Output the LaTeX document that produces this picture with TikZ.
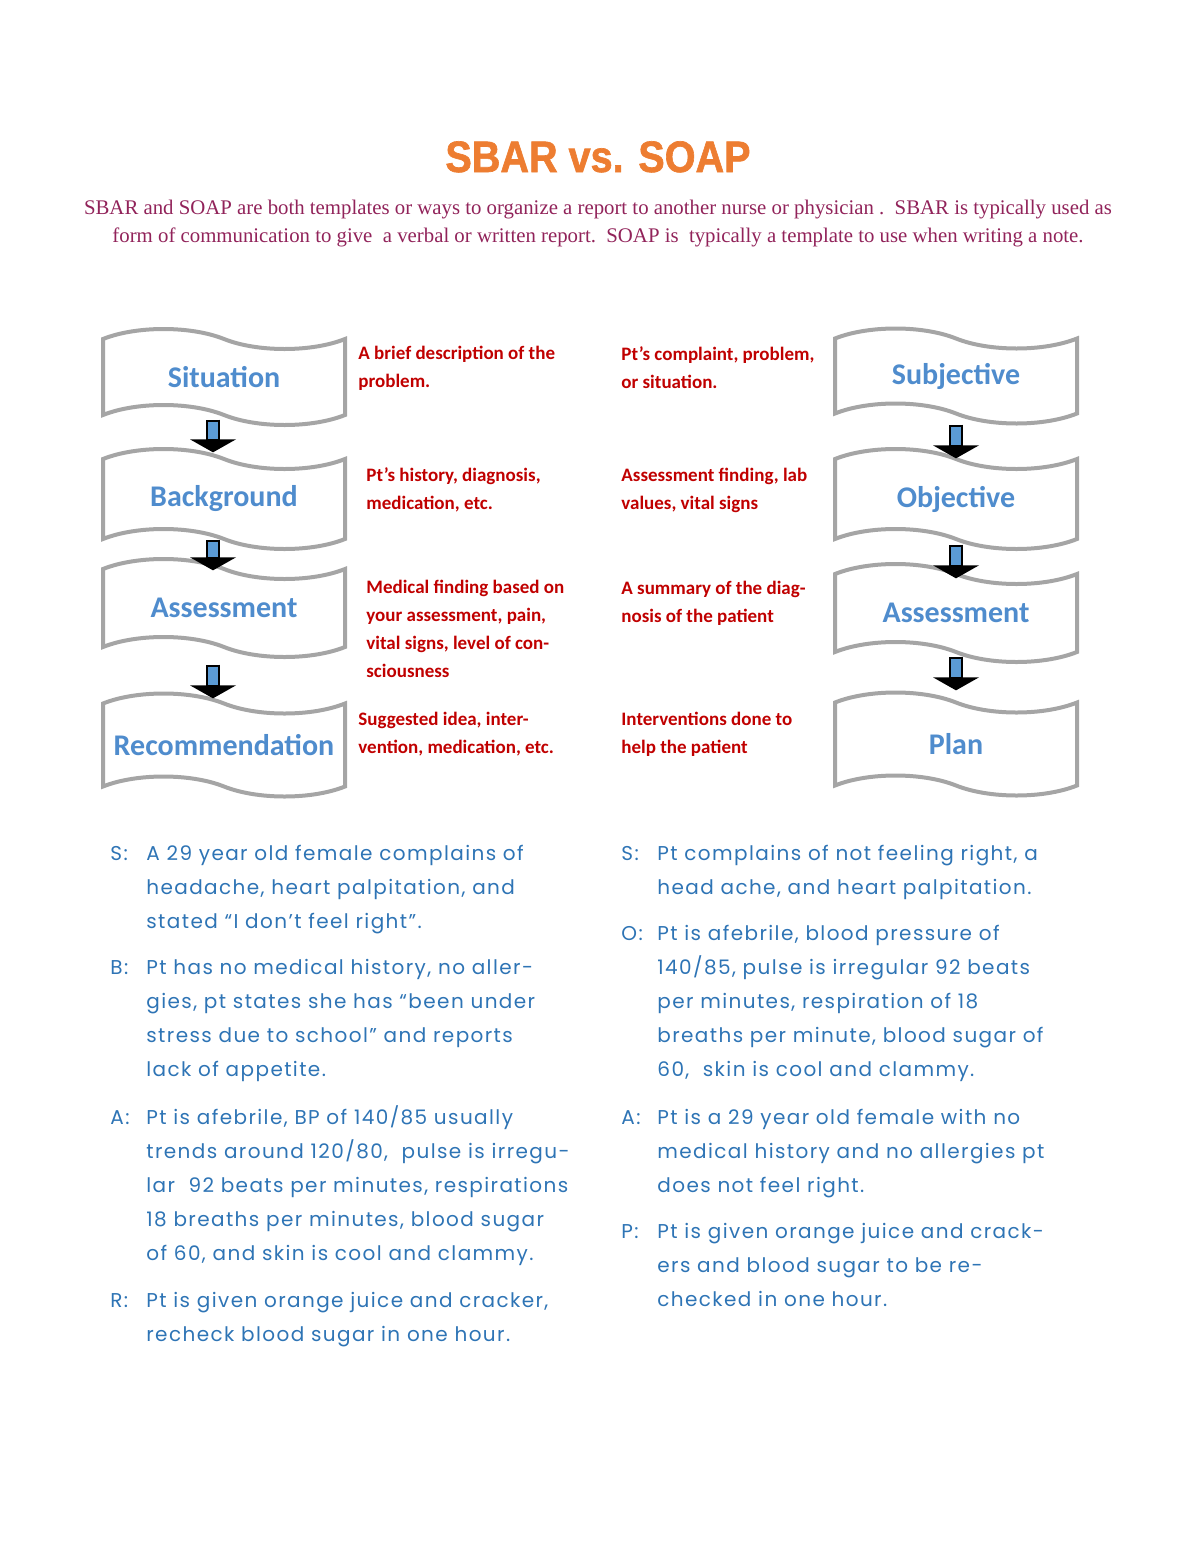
\documentclass[tikz,border=0pt]{standalone}
\usepackage{fontspec}
\usepackage{graphicx}
\setmainfont{Carlito}
\newfontfamily\gothicfont[LetterSpace=7]{Poppins}
\newfontfamily\notefont{Liberation Serif}
\newfontfamily\headfont[BoldFeatures={FakeBold=1.5}]{Liberation Sans}
\usetikzlibrary{shapes.symbols,arrows.meta,calc}

\definecolor{titleorange}{RGB}{237,125,49}
\definecolor{notemaroon}{RGB}{145,35,90}
\definecolor{descred}{RGB}{192,0,0}
\definecolor{labelblue}{RGB}{79,140,205}
\definecolor{bodyblue}{RGB}{46,116,181}
\definecolor{tapegray}{RGB}{165,165,165}
\definecolor{shaftblue}{RGB}{91,155,213}

\tikzset{
  flowtape/.style={shape=tape, draw=tapegray, line width=2pt, fill=white,
    tape bend top=out and in, tape bend bottom=out and in, tape bend height=10pt,
    minimum width=121pt, inner sep=0pt, text=labelblue,
    font=\bfseries\fontsize{15}{18}\selectfont},
  flowstep/.style 2 args={draw=shaftblue, line width=5pt, shorten <=#1, shorten >=#2,
    -{Triangle[black, width=23pt, length=6.5pt, line width=0pt]},
    preaction={draw=black, line width=7pt, -, shorten <=#1-1pt, shorten >=#2+5.5pt}},
  desc/.style={anchor=base west, align=left, inner sep=0pt, text=descred,
    font=\bfseries\fontsize{9.5}{14}\selectfont},
  body/.style={anchor=base west, align=left, inner sep=0pt, text=bodyblue,
    font=\gothicfont\fontsize{10}{17}\selectfont},
  note/.style={anchor=base, inner sep=0pt, text=notemaroon,
    font=\notefont\fontsize{10.4}{14}\selectfont}
}

\begin{document}
\begin{tikzpicture}[x=0.5pt,y=-0.5pt]
  \useasboundingbox (0,0) rectangle (1200,1553);

  % Heading
  \node[anchor=base, inner sep=0pt, text=titleorange,
    font=\headfont\bfseries\fontsize{22}{26}\selectfont] (title) at (598,172) {\scalebox{0.9}[1]{SBAR vs. SOAP}};
  \node[note] (note1) at (598,214) {SBAR and SOAP are both templates or ways to organize a report to another nurse or physician .\ \ SBAR is typically used as};
  \node[note] (note2) at (598,242) {form of communication to give\ \ a verbal or written report.\ \ SOAP is\ \ typically a template to use when writing a note.};

  % SBAR column
  \node[flowtape, minimum height=48pt] (sit) at (224,377) {Situation};
  \node[flowtape, minimum height=50pt] (bg) at (224,499) {Background};
  \node[flowtape, minimum height=49pt] (asL) at (224,608) {Assessment};
  \node[flowtape, minimum height=51.5pt] (rec) at (224,745) {Recommendation};

  \draw[flowstep={2.5pt}{2.5pt}] ($(sit.south)+(-11,0)$) -- ($(bg.north)+(-11,0)$);
  \draw[flowstep={0.5pt}{-1.5pt}] ($(bg.south)+(-11,0)$) -- ($(asL.north)+(-11,0)$);
  \draw[flowstep={9pt}{1.75pt}] ($(asL.south)+(-11,0)$) -- ($(rec.north)+(-11,0)$);

  % SOAP column
  \node[flowtape, minimum height=47.5pt] (subj) at (956,376) {Subjective};
  \node[flowtape, minimum height=50pt] (obj) at (956,499) {Objective};
  \node[flowtape, minimum height=49pt] (asR) at (956,613) {Assessment};
  \node[flowtape, minimum height=51.5pt] (plan) at (956,744) {Plan};

  \draw[flowstep={5.75pt}{-0.5pt}] (subj.south) -- (obj.north);
  \draw[flowstep={3pt}{-3pt}] (obj.south) -- (asR.north);
  \draw[flowstep={2.5pt}{5.25pt}] (asR.south) -- (plan.north);

  % Descriptions (placed by the baseline of their last line)
  \node[desc] (sitDesc) at (358,387) {A brief description of the\\problem.};
  \node[desc] (bgDesc) at (366,509) {Pt’s history, diagnosis,\\medication, etc.};
  \node[desc] (asLDesc) at (366,677) {Medical finding based on\\your assessment, pain,\\vital signs, level of con-\\sciousness};
  \node[desc] (recDesc) at (358,753) {Suggested idea, inter-\\vention, medication, etc.};
  \node[desc] (subjDesc) at (621,388) {Pt’s complaint, problem,\\or situation.};
  \node[desc] (objDesc) at (621,509) {Assessment finding, lab\\values, vital signs};
  \node[desc] (asRDesc) at (621,622) {A summary of the diag-\\nosis of the patient};
  \node[desc] (planDesc) at (621,753) {Interventions done to\\help the patient};

  % SBAR example
  \node[body] (sL) at (110,860) {S:};
  \node[body] (sLTxt) at (146,928) {A 29 year old female complains of\\headache, heart palpitation, and\\stated “I don’t feel right”.};
  \node[body] (bL) at (110,974) {B:};
  \node[body] (bLTxt) at (146,1076) {Pt has no medical history, no aller-\\gies, pt states she has “been under\\stress due to school” and reports\\lack of appetite.};
  \node[body] (aL) at (110,1124) {A:};
  \node[body] (aLTxt) at (146,1260) {Pt is afebrile, BP of 140/85 usually\\trends around 120/80,\ \ pulse is irregu-\\lar\ \ 92 beats per minutes, respirations\\18 breaths per minutes, blood sugar\\of 60, and skin is cool and clammy.};
  \node[body] (rL) at (110,1307) {R:};
  \node[body] (rLTxt) at (146,1341) {Pt is given orange juice and cracker,\\recheck blood sugar in one hour.};

  % SOAP example
  \node[body] (sR) at (621,860) {S:};
  \node[body] (sRTxt) at (657,894) {Pt complains of not feeling right, a\\head ache, and heart palpitation.};
  \node[body] (oR) at (621,940) {O:};
  \node[body] (oRTxt) at (657,1076) {Pt is afebrile, blood pressure of\\140/85, pulse is irregular 92 beats\\per minutes, respiration of 18\\breaths per minute, blood sugar of\\60,\ \ skin is cool and clammy.};
  \node[body] (aR) at (621,1124) {A:};
  \node[body] (aRTxt) at (657,1192) {Pt is a 29 year old female with no\\medical history and no allergies pt\\does not feel right.};
  \node[body] (pR) at (621,1238) {P:};
  \node[body] (pRTxt) at (657,1306) {Pt is given orange juice and crack-\\ers and blood sugar to be re-\\checked in one hour.};
\end{tikzpicture}
\end{document}
